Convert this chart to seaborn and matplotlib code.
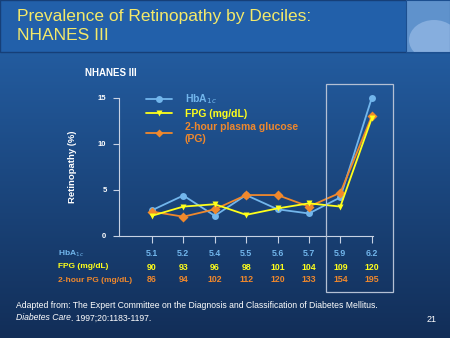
import numpy as np
import pandas as pd
import matplotlib
matplotlib.use("Agg")
import matplotlib.pyplot as plt
import seaborn as sns
from matplotlib.patches import Rectangle, Ellipse
from matplotlib.lines import Line2D
import matplotlib.transforms as mtransforms

# ---- data ----
hba1c_labels = ["5.1", "5.2", "5.4", "5.5", "5.6", "5.7", "5.9", "6.2"]
fpg_labels = ["90", "93", "96", "98", "101", "104", "109", "120"]
pg_labels = ["86", "94", "102", "112", "120", "133", "154", "195"]
hba1c_vals = [2.8, 4.4, 2.2, 4.45, 2.9, 2.45, 4.2, 15.0]
fpg_vals = [2.2, 3.2, 3.45, 2.3, 3.0, 3.55, 3.2, 12.8]
pg_vals = [2.65, 2.1, 2.9, 4.45, 4.45, 3.2, 4.7, 13.0]
series_names = ["HbA1c", "FPG", "PG"]
yticks = [0, 5, 10, 15]

C_BLUE = "#72b6ec"
C_YEL = "#ffff1a"
C_ORG = "#f0882c"
C_TITLE = "#f4e96a"

n = len(hba1c_labels)
df = pd.DataFrame({
    "pos": list(range(n)) * 3,
    "val": hba1c_vals + pg_vals + fpg_vals,
    "series": ["HbA1c"] * n + ["PG"] * n + ["FPG"] * n,
})

sns.set_style("white")
plt.rcParams["font.family"] = ["Liberation Sans", "DejaVu Sans"]

W, H = 450, 338
fig = plt.figure(figsize=(W / 100, H / 100), dpi=100)

# background gradient
bg = fig.add_axes([0, 0, 1, 1], zorder=-10)
grad = np.linspace(0, 1, 256)[:, None]
c_top = np.array([0x26, 0x64, 0xac]) / 255
c_bot = np.array([0x12, 0x2e, 0x58]) / 255
img = c_top[None, None, :] * (1 - grad[:, :, None]) + c_bot[None, None, :] * grad[:, :, None]
bg.imshow(img, aspect="auto", extent=[0, 1, 0, 1], origin="upper")
bg.set_xlim(0, 1)
bg.set_ylim(0, 1)
bg.axis("off")
# title bar
bg.add_patch(Rectangle((0, 1 - 52 / H), 1, 52 / H, facecolor="#2260aa", edgecolor="#163f78", lw=1.0))
# globe icon block
icon = Rectangle((406 / W, 1 - 52 / H), 44 / W, 52 / H, facecolor="#5f92cc", edgecolor="none")
bg.add_patch(icon)
ell = Ellipse((434 / W, 1 - 40 / H), 50 / W, 40 / H, facecolor="#86aede", edgecolor="none")
bg.add_patch(ell)
ell.set_clip_path(icon)
bg.add_patch(Rectangle((406 / W, 1 - 52 / H), 44 / W, 52 / H, facecolor="none", edgecolor="#1c4f90", lw=0.8))

fig.text(17 / W, 1 - 16 / H, "Prevalence of Retinopathy by Deciles:", color=C_TITLE,
         fontsize=12.5, va="center", ha="left")
fig.text(17 / W, 1 - 35 / H, "NHANES III", color=C_TITLE, fontsize=12.5, va="center", ha="left")

# main axes
x0, x1 = 119, 373
y0, y1 = 236, 98
ax = fig.add_axes([x0 / W, 1 - y0 / H, (x1 - x0) / W, (y0 - y1) / H])
ax.set_facecolor("none")

pal = {"HbA1c": C_BLUE, "FPG": C_YEL, "PG": C_ORG}
mk = {"HbA1c": "o", "FPG": "v", "PG": "D"}
sns.lineplot(data=df, x="pos", y="val", hue="series", style="series",
             palette=pal, markers=mk, dashes=False, markersize=5,
             markeredgecolor="none", linewidth=1.3, ax=ax, legend=False,
             hue_order=["HbA1c", "PG", "FPG"], style_order=["HbA1c", "PG", "FPG"],
             clip_on=False)

ax.set_xlim(-1.05, 7.04)
ax.set_ylim(0, 15)
ax.set_xticks(range(n))
ax.set_xticklabels([])
ax.set_yticks(yticks)
ax.set_yticklabels([str(v) for v in yticks], color="white", fontsize=5.5, fontweight="bold")
ax.tick_params(axis="y", length=4, color="#c8d2e4", width=0.8, pad=5, left=True)
ax.tick_params(axis="x", length=5, color="#c8d2e4", width=0.8, bottom=True)
for s in ["top", "right"]:
    ax.spines[s].set_visible(False)
for s in ["left", "bottom"]:
    ax.spines[s].set_color("#c8d2e4")
    ax.spines[s].set_linewidth(0.8)
ax.set_xlabel("")
ax.set_ylabel("Retinopathy (%)", color="white", fontsize=6.8, fontweight="bold", labelpad=15)

# table rows under the axis
tr = mtransforms.blended_transform_factory(ax.transData, fig.transFigure)
rows = [(hba1c_labels, C_BLUE, 253), (fpg_labels, C_YEL, 267), (pg_labels, C_ORG, 280)]
for labels, col, ypx in rows:
    for i, lab in enumerate(labels):
        ax.text(i, 1 - ypx / H, lab, transform=tr, color=col, fontsize=6.3,
                ha="center", va="center", fontweight="bold", clip_on=False)
fig.text(58 / W, 1 - 254 / H, "HbA$_{1c}$", color=C_BLUE, fontsize=6, fontweight="bold", va="center")
fig.text(58 / W, 1 - 267 / H, "FPG (mg/dL)", color=C_YEL, fontsize=6, fontweight="bold", va="center")
fig.text(58 / W, 1 - 280 / H, "2-hour PG (mg/dL)", color=C_ORG, fontsize=6, fontweight="bold", va="center")

# legend
handles = [
    Line2D([], [], color=C_BLUE, marker="o", markersize=5, markeredgecolor="none", lw=1.3),
    Line2D([], [], color=C_YEL, marker="v", markersize=5, markeredgecolor="none", lw=1.3),
    Line2D([], [], color=C_ORG, marker="D", markersize=4.5, markeredgecolor="none", lw=1.3),
]
leg = ax.legend(handles, ["HbA$_{1c}$", "FPG (mg/dL)", "2-hour plasma glucose\n(PG)"],
                loc="upper left", bbox_to_anchor=(0.07, 1.11), frameon=False,
                handlelength=2.5, handletextpad=1.2, labelspacing=0.3,
                prop={"size": 7.5, "weight": "bold"}, labelcolor=[C_BLUE, C_YEL, C_ORG])

# subtitle
fig.text(85 / W, 1 - 73 / H, "NHANES III", color="white", fontsize=7, fontweight="bold", va="center")

# highlight box
fig.patches.append(Rectangle((326 / W, 1 - 292 / H), 67 / W, 208 / H, transform=fig.transFigure,
                             fill=False, edgecolor="#b4c0d4", lw=0.9, figure=fig))

# footer
fs = 6.2
fig.text(16 / W, 1 - 306 / H,
         "Adapted from: The Expert Committee on the Diagnosis and Classification of Diabetes Mellitus.",
         color="white", fontsize=fs, va="center")
t1 = fig.text(16 / W, 1 - 318 / H, "Diabetes Care", color="white", fontsize=fs, va="center", style="italic")
fig.canvas.draw()
bb = t1.get_window_extent()
fig.text(bb.x1 / W, 1 - 318 / H, ". 1997;20:1183-1197.", color="white", fontsize=fs, va="center")
fig.text(427 / W, 1 - 320 / H, "21", color="white", fontsize=6.5, va="center")

fig.savefig("out.png", dpi=100)
